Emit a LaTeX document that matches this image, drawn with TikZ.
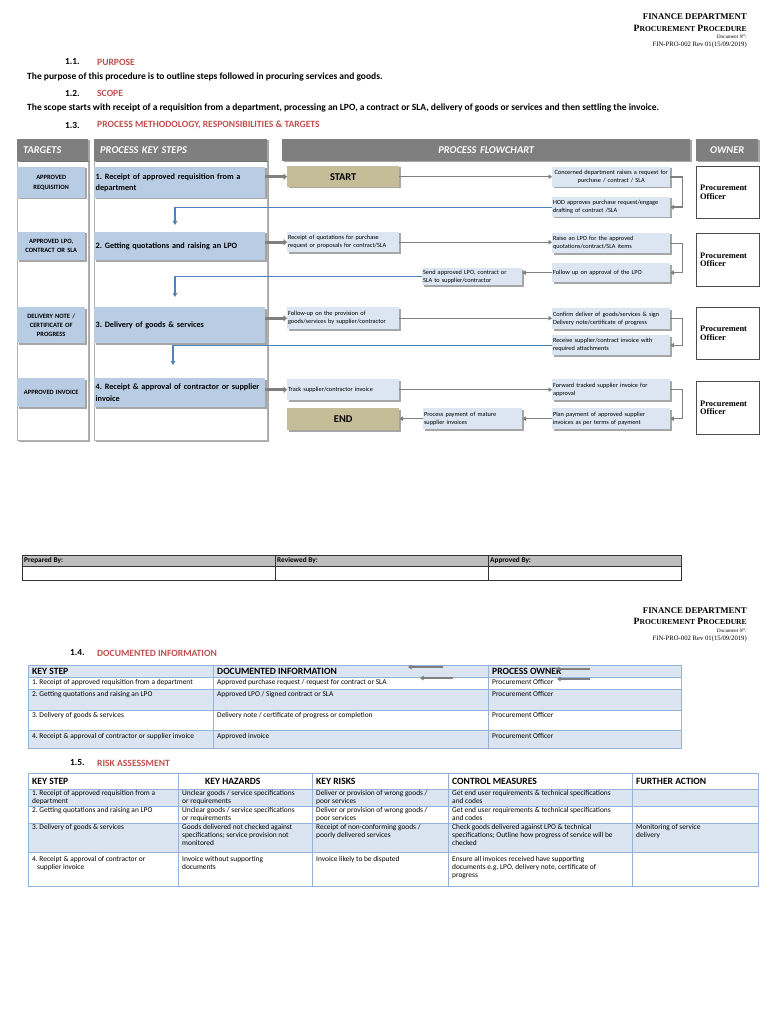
\documentclass[tikz,border=0pt]{standalone}
\usepackage{fontspec}
\setmainfont{Carlito}
\newfontfamily\seriffam{Liberation Serif}
\usetikzlibrary{shadows,arrows.meta}
\newcommand\fsz[2]{\fontsize{#1}{#2}\selectfont}
\newcommand\pcap[2]{{\fsz{9.6}{10}#1}{\fsz{7.6}{10}#2}}
\definecolor{hdrgrey}{HTML}{7F7F7F}
\definecolor{stepblue}{HTML}{B8CCE4}
\definecolor{flowblue}{HTML}{DCE6F2}
\definecolor{tanc}{HTML}{C4BD97}
\definecolor{lineblue}{HTML}{4F81BD}
\definecolor{redhead}{HTML}{C0504D}
\definecolor{tblborder}{HTML}{95B3D7}
\definecolor{tblfill}{HTML}{DBE5F1}
\definecolor{sigfill}{HTML}{BFBFBF}
\tikzset{
  shadowed/.style={drop shadow={shadow xshift=1.3pt,shadow yshift=-1.3pt,fill=black,opacity=0.35}},
  hbar/.style={shadowed,fill=hdrgrey,text=white,font=\bfseries\itshape\fsz{10.4}{11},anchor=north west,inner xsep=6pt,inner ysep=0pt,align=left,minimum height=22pt},
  colframe/.style={shadowed,draw=black!30,fill=white,anchor=north west,inner sep=0pt},
  tgtbox/.style={shadowed,fill=stepblue,anchor=north west,font=\bfseries\fsz{6.5}{9.3},align=center,inner xsep=1pt,inner ysep=0pt,text width=66pt},
  stepbox/.style={shadowed,fill=stepblue,anchor=north west,font=\bfseries\fsz{8.2}{11.8},align=left,inner xsep=1.5pt,inner ysep=0pt,text width=168pt},
  fbox/.style={shadowed,fill=flowblue,anchor=north west,font=\fsz{6.3}{8.2},align=left,inner xsep=0.8pt,inner ysep=0pt},
  termbox/.style={shadowed,fill=tanc,anchor=north west,font=\bfseries\fsz{10.4}{11},minimum width=112pt,inner sep=0pt},
  ownbox/.style={draw=black!70,fill=white,anchor=north west,font=\seriffam\bfseries\fsz{8.4}{8.6},minimum width=63pt,text width=55pt,inner xsep=4pt,inner ysep=0pt,align=left},
  fatarr/.style={draw=hdrgrey,line width=2.6pt,-{Triangle[length=3.5pt,width=6.5pt]}},
  thinarr/.style={draw=hdrgrey,line width=1.1pt,-{Triangle[length=3.5pt,width=4.5pt]}},
  loopln/.style={draw=hdrgrey,line width=1.4pt,-{Triangle[length=3.5pt,width=4.5pt]}},
  blueln/.style={draw=lineblue,line width=1.2pt,-{Triangle[length=4pt,width=4.5pt]}},
  pghdA/.style={font=\seriffam\bfseries\fsz{8.8}{10},anchor=east,inner sep=0pt},
  pghdB/.style={font=\seriffam\fsz{6.7}{7},anchor=east,inner sep=0pt},
  pghdC/.style={font=\seriffam\itshape\fsz{5.2}{6},anchor=east,inner sep=0pt},
  secnum/.style={font=\bfseries\fsz{9.3}{10},anchor=west,inner sep=0pt},
  sectitle/.style={font=\bfseries\fsz{9.6}{10},text=redhead,anchor=west,inner sep=0pt},
  bodytxt/.style={font=\bfseries\fsz{9.5}{10},anchor=west,inner sep=0pt},
  thead/.style={font=\bfseries\fsz{9.6}{10},anchor=west,inner sep=0pt},
  cell/.style={font=\fsz{7.4}{7.9},anchor=north west,align=left,inner sep=0pt},
  siglbl/.style={font=\bfseries\fsz{7.3}{8},anchor=west,inner sep=0pt},
  tline/.style={draw=tblborder,line width=0.8pt},
}
\begin{document}
\frenchspacing
\begin{tikzpicture}[x=1pt,y=-1pt]
\useasboundingbox (0,0) rectangle (768,1024);
\fill[white] (0,0) rectangle (768,1024);

% ---------- page 1 header ----------
\node[pghdA] (fd1) at (747,17) {FINANCE DEPARTMENT};
\node[pghdA] (pp1) at (747,28) {\pcap{P}{ROCUREMENT} \pcap{P}{ROCEDURE}};
\node[pghdC] (dn1) at (747,37) {Document N°:};
\node[pghdB] (rv1) at (747,45) {FIN-PRO-002 Rev 01(15/09/2019)};

% ---------- sections 1.1 - 1.3 ----------
\node[secnum] (n11) at (65,62) {1.1.};
\node[sectitle] (h11) at (97,62) {PURPOSE};
\node[bodytxt] (b11) at (27,77) {The purpose of this procedure is to outline steps followed in procuring services and goods.};
\node[secnum] (n12) at (65,93) {1.2.};
\node[sectitle] (h12) at (97,93) {SCOPE};
\node[bodytxt] (b12) at (27,108) {The scope starts with receipt of a requisition from a department, processing an LPO, a contract or SLA, delivery of goods or services and then settling the invoice.};
\node[secnum] (n13) at (65,125) {1.3.};
\node[sectitle] (h13) at (97,125) {PROCESS METHODOLOGY, RESPONSIBILITIES \& TARGETS};

% ---------- columns ----------
\node[colframe,minimum width=71pt,minimum height=279pt] (tcol) at (17,161) {};
\node[colframe,minimum width=173pt,minimum height=279pt] (scol) at (94,161) {};

\node[hbar,text width=59pt] (th) at (17,139) {TARGETS};
\node[hbar,text width=161pt] (sh) at (94,139) {PROCESS KEY STEPS};
\node[hbar,text width=396pt,align=center] (fh) at (282,139) {PROCESS FLOWCHART};
\node[hbar,text width=50pt,align=center] (oh) at (696,139) {OWNER};

% targets
\node[tgtbox,minimum height=31pt] (t1) at (17,167) {APPROVED\\REQUISITION};
\node[tgtbox,minimum height=28pt] (t2) at (17,232) {APPROVED LPO,\\CONTRACT OR SLA};
\node[tgtbox,minimum height=36pt] (t3) at (17,307) {DELIVERY NOTE /\\CERTIFICATE OF\\PROGRESS};
\node[tgtbox,minimum height=29pt] (t4) at (17,378) {APPROVED INVOICE};

% key steps
\node[stepbox,minimum height=31pt] (s1) at (94,167) {1. Receipt of approved requisition from a\\department};
\node[stepbox,minimum height=28pt] (s2) at (94,232) {2. Getting quotations and raising an LPO};
\node[stepbox,minimum height=36pt] (s3) at (94,307) {3. Delivery of goods \& services};
\node[stepbox,minimum height=29pt] (s4) at (94,378) {4. Receipt \& approval of contractor or supplier\\invoice};

% flowchart boxes
\node[termbox,minimum height=21pt] (start) at (287,166) {START};
\node[fbox,text width=116.4pt,minimum height=20pt,align=center] (f1a) at (552,167) {Concerned department raises a request for\\purchase / contract / SLA};
\node[fbox,text width=116.4pt,minimum height=20pt] (f1b) at (552,197) {HOD approves purchase request/engage\\drafting of contract /SLA};

\node[fbox,text width=110.4pt,minimum height=20pt] (f2a) at (287,232) {Receipt of quotations for purchase\\request or proposals for contract/SLA};
\node[fbox,text width=116.4pt,minimum height=20pt] (f2b) at (552,233) {Raise an LPO for the approved\\quotations/contract/SLA items};
\node[fbox,text width=116.4pt,minimum height=19pt] (f2c) at (552,263) {Follow up on approval of the LPO};
\node[fbox,text width=98.4pt,minimum height=17pt] (f2d) at (422,268) {Send approved LPO, contract or\\SLA to supplier/contractor};

\node[fbox,text width=110.4pt,minimum height=22pt] (f3a) at (287,307) {Follow-up on the provision of\\goods/services by supplier/contractor};
\node[fbox,text width=116.4pt,minimum height=21pt] (f3b) at (552,308) {Confirm deliver of goods/services \& sign\\Delivery note/certificate of progress};
\node[fbox,text width=116.4pt,minimum height=20pt] (f3c) at (552,335) {Receive supplier/contract invoice with\\required attachments};

\node[fbox,text width=110.4pt,minimum height=21pt] (f4a) at (287,379) {Track supplier/contractor invoice};
\node[fbox,text width=116.4pt,minimum height=21pt] (f4b) at (552,379) {Forward tracked supplier invoice for\\approval};
\node[fbox,text width=116.4pt,minimum height=21pt] (f4c) at (552,408) {Plan payment of approved supplier\\invoices as per terms of payment};
\node[fbox,text width=97.4pt,minimum height=21pt] (f4d) at (423,408) {Process payment of mature\\supplier invoices};
\node[termbox,minimum height=22pt] (end) at (287,408) {END};

% owners
\node[ownbox,minimum height=52pt] (o1) at (696,166) {Procurement\\Officer};
\node[ownbox,minimum height=53pt] (o2) at (696,233) {Procurement\\Officer};
\node[ownbox,minimum height=52pt] (o3) at (696,307) {Procurement\\Officer};
\node[ownbox,minimum height=53pt] (o4) at (696,381) {Procurement\\Officer};

% connectors
\draw[fatarr] (s1.east |- start.west) -- (start.west);
\draw[fatarr] (s2.east |- f2a.west) -- (f2a.west);
\draw[fatarr] (s3.east |- f3a.west) -- (f3a.west);
\draw[fatarr] (s4.east |- f4a.west) -- (f4a.west);

\draw[thinarr] (start.east) -- (start.east -| f1a.west);
\draw[thinarr] (f2a.east) -- (f2a.east -| f2b.west);
\draw[thinarr] (f3a.east) -- (f3a.east -| f3b.west);
\draw[thinarr] (f4a.east) -- (f4a.east -| f4b.west);

\draw[loopln] (f1a.east) -- ++(12,0) |- (f1b.east);
\draw[loopln] (f2b.east) -- ++(12,0) |- (f2c.east);
\draw[loopln] (f3b.east) -- ++(12,0) |- (f3c.east);
\draw[loopln] (f4b.east) -- ++(12,0) |- (f4c.east);

\draw[thinarr] (f2c.west) -- (f2c.west -| f2d.east);
\draw[thinarr] (f4c.west) -- (f4c.west -| f4d.east);
\draw[thinarr] (f4d.west) -- (f4d.west -| end.east);

\coordinate (b1) at (175,225);
\coordinate (b2) at (175,297);
\coordinate (b3) at (173,365);
\draw[blueln] (f1b.west) -| (b1);
\draw[blueln] (f2d.west) -| (b2);
\draw[blueln] (f3c.west) -| (b3);

% ---------- signature table ----------
\fill[sigfill] (22,555) rectangle (681,566);
\draw[black!80,line width=0.6pt] (22,555) rectangle (681,580);
\draw[black!80,line width=0.6pt] (22,566) -- (681,566);
\draw[black!80,line width=0.6pt] (275,555) -- (275,580);
\draw[black!80,line width=0.6pt] (488,555) -- (488,580);
\node[siglbl] (sp) at (24,560.5) {Prepared By:};
\node[siglbl] (sr) at (277,560.5) {Reviewed By:};
\node[siglbl] (sa) at (490,560.5) {Approved By:};

% ---------- page 2 header ----------
\node[pghdA] (fd2) at (747,611) {FINANCE DEPARTMENT};
\node[pghdA] (pp2) at (747,621) {\pcap{P}{ROCUREMENT} \pcap{P}{ROCEDURE}};
\node[pghdC] (dn2) at (747,631) {Document N°:};
\node[pghdB] (rv2) at (747,639) {FIN-PRO-002 Rev 01(15/09/2019)};

% ---------- 1.4 documented information ----------
\node[secnum] (n14) at (70,653) {1.4.};
\node[sectitle] (h14) at (97,653) {DOCUMENTED INFORMATION};
\fill[tblfill] (28,665) rectangle (681,677);
\fill[tblfill] (28,689) rectangle (681,710);
\fill[tblfill] (28,730) rectangle (681,748);
\draw[tline] (28,665) rectangle (681,748);
\foreach \yy in {677,689,710,730} \draw[tline] (28,\yy) -- (681,\yy);
\draw[tline] (213,665) -- (213,748);
\draw[tline] (488,665) -- (488,748);
\node[thead] (d0a) at (32,671) {KEY STEP};
\node[thead] (d0b) at (217,671) {DOCUMENTED INFORMATION};
\node[thead] (d0c) at (492,671) {PROCESS OWNER};
\node[cell] (d1a) at (32,679) {1. Receipt of approved requisition from a department};
\node[cell] (d1b) at (217,679) {Approved purchase request / request for contract or SLA};
\node[cell] (d1c) at (492,679) {Procurement Officer};
\node[cell] (d2a) at (32,691) {2. Getting quotations and raising an LPO};
\node[cell] (d2b) at (217,691) {Approved LPO / Signed contract or SLA};
\node[cell] (d2c) at (492,691) {Procurement Officer};
\node[cell] (d3a) at (32,712) {3. Delivery of goods \& services};
\node[cell] (d3b) at (217,712) {Delivery note / certificate of progress or completion};
\node[cell] (d3c) at (492,712) {Procurement Officer};
\node[cell] (d4a) at (32,733) {4. Receipt \& approval of contractor or supplier invoice};
\node[cell] (d4b) at (217,733) {Approved invoice};
\node[cell] (d4c) at (492,733) {Procurement Officer};
% stray arrows
\coordinate (sa1) at (443,667); \coordinate (sa1e) at (408,667);
\coordinate (sa2) at (453,678); \coordinate (sa2e) at (420,678);
\coordinate (sa3) at (590,669); \coordinate (sa3e) at (556,669);
\coordinate (sa4) at (590,679); \coordinate (sa4e) at (557,679);
\draw[thinarr] (sa1) -- (sa1e);
\draw[thinarr] (sa2) -- (sa2e);
\draw[thinarr] (sa3) -- (sa3e);
\draw[thinarr] (sa4) -- (sa4e);

% ---------- 1.5 risk assessment ----------
\node[secnum] (n15) at (70,763) {1.5.};
\node[sectitle] (h15) at (97,763) {RISK ASSESSMENT};
\fill[tblfill] (28,789) rectangle (758,806);
\fill[tblfill] (28,823) rectangle (758,852);
\draw[tline] (28,773) rectangle (758,886);
\foreach \yy in {789,806,823,852} \draw[tline] (28,\yy) -- (758,\yy);
\foreach \xx in {178,312,448,632} \draw[tline] (\xx,773) -- (\xx,886);
\node[thead] (r0a) at (32,781) {KEY STEP};
\node[thead] (r0b) at (205,781) {KEY HAZARDS};
\node[thead] (r0c) at (316,781) {KEY RISKS};
\node[thead] (r0d) at (452,781) {CONTROL MEASURES};
\node[thead] (r0e) at (636,781) {FURTHER ACTION};

\node[cell] (r1a) at (32,790.3) {1. Receipt of approved requisition from a\\department};
\node[cell] (r1b) at (182,790.3) {Unclear goods / service specifications\\or requirements};
\node[cell] (r1c) at (316,790.3) {Deliver or provision of wrong goods /\\poor services};
\node[cell] (r1d) at (452,790.3) {Get end user requirements \& technical specifications\\and codes};

\node[cell] (r2a) at (32,807.3) {2. Getting quotations and raising an LPO};
\node[cell] (r2b) at (182,807.3) {Unclear goods / service specifications\\or requirements};
\node[cell] (r2c) at (316,807.3) {Deliver or provision of wrong goods /\\poor services};
\node[cell] (r2d) at (452,807.3) {Get end user requirements \& technical specifications\\and codes};

\node[cell] (r3a) at (32,824.5) {3. Delivery of goods \& services};
\node[cell] (r3b) at (182,824.5) {Goods delivered not checked against\\specifications; service provision not\\monitored};
\node[cell] (r3c) at (316,824.5) {Receipt of non-conforming goods /\\poorly delivered services};
\node[cell] (r3d) at (452,824.5) {Check goods delivered against LPO \& technical\\specifications; Outline how progress of service will be\\checked};
\node[cell] (r3e) at (636,824.5) {Monitoring of service\\delivery};

\node[cell] (r4a) at (32,856) {4. Receipt \& approval of contractor or\\\hspace*{5pt}supplier invoice};
\node[cell] (r4b) at (182,856) {Invoice without supporting\\documents};
\node[cell] (r4c) at (316,856) {Invoice likely to be disputed};
\node[cell] (r4d) at (452,856) {Ensure all invoices received have supporting\\documents e.g. LPO, delivery note, certificate of\\progress};
\end{tikzpicture}
\end{document}
